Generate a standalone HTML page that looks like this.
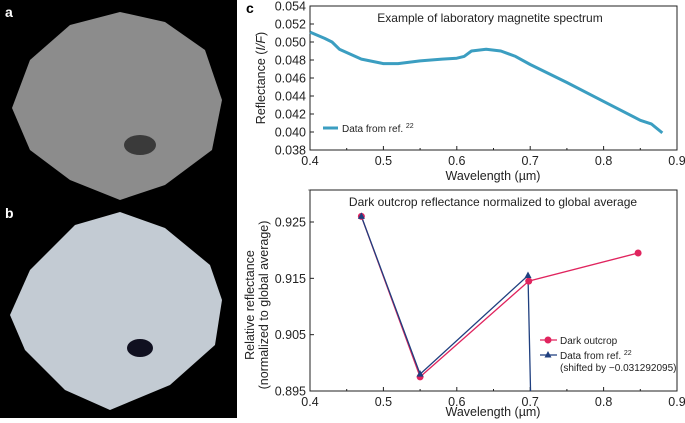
<!DOCTYPE html>
<html><head><meta charset="utf-8">
<style>
html,body{margin:0;padding:0;background:#fff;width:685px;height:423px;overflow:hidden}
svg{display:block}
svg text{font-family:"Liberation Sans",sans-serif}
</style></head>
<body>
<svg width="685" height="423" viewBox="0 0 685 423" xmlns="http://www.w3.org/2000/svg">
<defs><clipPath id="cp"><rect x="310" y="190" width="367" height="201"/></clipPath></defs>
<g>
<rect x="0" y="0" width="237" height="418" fill="#000"/>
<polygon points="120,12 165,22 205,50 222,100 212,150 165,185 120,200 70,180 30,150 12,108 30,60 70,25" fill="#8c8c8c"/>
<ellipse cx="140" cy="145" rx="16" ry="10" fill="#3a3a3a"/>
<polygon points="120,212 165,228 210,265 222,300 215,345 170,385 110,410 65,390 25,350 10,315 30,270 75,225" fill="#c3cbd3"/>
<ellipse cx="140" cy="348" rx="13" ry="9" fill="#101020"/>
<text x="5" y="17" font-size="14" font-weight="bold" fill="#fff">a</text>
<text x="5" y="218" font-size="14" font-weight="bold" fill="#fff">b</text>
</g>
<text x="246" y="13" font-size="14" font-weight="bold" fill="#000">c</text>
<line x1="308" y1="190" x2="677" y2="190" stroke="#999" stroke-width="1"/>
<g id="topChart"></g>
<g id="botChart"></g>
</svg>
<script>
const specX=[0.40,0.42,0.43,0.44,0.47,0.50,0.52,0.55,0.58,0.60,0.61,0.62,0.64,0.66,0.68,0.70,0.75,0.80,0.85,0.865,0.88];
const specY=[0.0511,0.0504,0.0500,0.0492,0.0481,0.0476,0.0476,0.0479,0.0481,0.0482,0.0484,0.0490,0.0492,0.0490,0.0484,0.0475,0.0455,0.0434,0.0413,0.0409,0.0399];
const topYTicks=["0.038","0.040","0.042","0.044","0.046","0.048","0.050","0.052","0.054"];
const xTicks=["0.4","0.5","0.6","0.7","0.8","0.9"];
const darkX=[0.47,0.55,0.698,0.847];
const darkY=[0.926,0.8975,0.9145,0.9195];
const refX=[0.47,0.55,0.697,0.703];
const refY=[0.926,0.898,0.9155,0.880];
const botYTicks=["0.895","0.905","0.915","0.925"];
const NS="http://www.w3.org/2000/svg";
function mk(p,tag,a){const e=document.createElementNS(NS,tag);for(const k in a)e.setAttribute(k,a[k]);p.appendChild(e);return e;}
const L=310,R=677;
const sx=v=>L+(v-0.4)/0.5*(R-L);
const topG=document.getElementById('topChart');
const T1=6,B1=150;
const sy1=v=>B1-(v-0.038)/0.016*(B1-T1);
let fr=mk(topG,'rect',{x:L,y:T1,width:R-L,height:B1-T1,fill:'none',stroke:'#222','stroke-width':1});


topYTicks.forEach(t=>{const y=sy1(+t);
 const tl=mk(topG,'line',{x1:L,x2:L+4,y1:y,y2:y,stroke:'#222'});
 
 
 const tx=mk(topG,'text',{x:L-4,y:y+4.5,'font-size':12.5,'text-anchor':'end',fill:'#222'});tx.textContent=t;
 
 });
xTicks.forEach((t,i)=>{const x=sx(+t);
 const tl=mk(topG,'line',{x1:x,x2:x,y1:B1,y2:B1-4,stroke:'#222'});
 
 
 if(i<5){const m=mk(topG,'line',{x1:x+36.7,x2:x+36.7,y1:B1,y2:B1-2,stroke:'#222'});
 
 }
 const tx=mk(topG,'text',{x:x,y:B1+15,'font-size':12.5,'text-anchor':'middle',fill:'#222'});tx.textContent=t;
 
 });
let t1=mk(topG,'text',{x:490,y:22,'font-size':12,'text-anchor':'middle',fill:'#222'});t1.textContent='Example of laboratory magnetite spectrum';


let xl=mk(topG,'text',{x:493,y:180,'font-size':12.5,'text-anchor':'middle',fill:'#222'});xl.textContent='Wavelength (µm)';


let yl=mk(topG,'text',{x:0,y:0,'font-size':12.5,'text-anchor':'middle',fill:'#222',transform:'translate(265,78) rotate(-90)'});yl.innerHTML='Reflectance (<tspan font-style="italic">I/F</tspan>)';


let ln=mk(topG,'polyline',{points:specX.map((x,i)=>sx(x)+','+sy1(specY[i])).join(' '),fill:'none',stroke:'#3b9ec1','stroke-width':3,'stroke-linejoin':'round'});


let lg=mk(topG,'line',{x1:323,x2:338,y1:128,y2:128,stroke:'#3b9ec1','stroke-width':3});


let lt=mk(topG,'text',{x:342,y:132,'font-size':10,fill:'#222'});lt.innerHTML='Data from ref. <tspan font-size="7" dy="-4">22</tspan>';


const botG=document.getElementById('botChart');
const T2=190,B2=391;
const sy2=v=>B2-(v-0.895)/0.03*(B2-222);
let fr2=mk(botG,'rect',{x:L,y:T2,width:R-L,height:B2-T2,fill:'none',stroke:'#222','stroke-width':1});


botYTicks.forEach(t=>{const y=sy2(+t);
 const tl=mk(botG,'line',{x1:L,x2:L+4,y1:y,y2:y,stroke:'#222'});
 
 
 const tx=mk(botG,'text',{x:L-4,y:y+4.5,'font-size':12.5,'text-anchor':'end',fill:'#222'});tx.textContent=t;
 
 });
xTicks.forEach((t,i)=>{const x=sx(+t);
 const tl=mk(botG,'line',{x1:x,x2:x,y1:B2,y2:B2-4,stroke:'#222'});
 
 
 if(i<5){const m=mk(botG,'line',{x1:x+36.7,x2:x+36.7,y1:B2,y2:B2-2,stroke:'#222'});
 
 }
 const tx=mk(botG,'text',{x:x,y:B2+15,'font-size':12.5,'text-anchor':'middle',fill:'#222'});tx.textContent=t;
 
 });
let t2=mk(botG,'text',{x:493,y:206,'font-size':12,'text-anchor':'middle',fill:'#222'});t2.textContent='Dark outcrop reflectance normalized to global average';


let xl2=mk(botG,'text',{x:493,y:416,'font-size':12.5,'text-anchor':'middle',fill:'#222'});xl2.textContent='Wavelength (µm)';


let yl2=mk(botG,'text',{x:0,y:0,'font-size':12.5,'text-anchor':'middle',fill:'#222',transform:'translate(254,305) rotate(-90)'});yl2.textContent='Relative reflectance';


let yl3=mk(botG,'text',{x:0,y:0,'font-size':12.5,'text-anchor':'middle',fill:'#222',transform:'translate(268,305) rotate(-90)'});yl3.textContent='(normalized to global average)';


let dl=mk(botG,'polyline',{points:darkX.map((x,i)=>sx(x)+','+sy2(darkY[i])).join(' '),fill:'none',stroke:'#e0245e','stroke-width':1.3,'clip-path':'url(#cp)'});


let rl=mk(botG,'polyline',{points:refX.map((x,i)=>sx(x)+','+sy2(refY[i])).join(' '),fill:'none',stroke:'#1f3f7f','stroke-width':1.3,'clip-path':'url(#cp)'});


darkX.forEach((x,i)=>{const c=mk(botG,'circle',{cx:sx(x),cy:sy2(darkY[i]),r:3.5,fill:'#e0245e'});
 
 });
refX.slice(0,3).forEach((x,i)=>{const px=sx(x),py=sy2(refY[i]);const p=mk(botG,'polygon',{points:`${px},${py-4} ${px-3.5},${py+2.5} ${px+3.5},${py+2.5}`,fill:'#1f3f7f'});
 
 });
let g1=mk(botG,'line',{x1:540,x2:557,y1:340,y2:340,stroke:'#e0245e','stroke-width':1.3});


let g1c=mk(botG,'circle',{cx:548,cy:340,r:3.5,fill:'#e0245e'});


let g1t=mk(botG,'text',{x:560,y:344,'font-size':10,fill:'#222'});g1t.textContent='Dark outcrop';


let g2=mk(botG,'line',{x1:540,x2:557,y1:355,y2:355,stroke:'#1f3f7f','stroke-width':1.3});


let g2m=mk(botG,'polygon',{points:'548,351 544.5,357.5 551.5,357.5',fill:'#1f3f7f'});


let g2t=mk(botG,'text',{x:560,y:359,'font-size':10,fill:'#222'});g2t.innerHTML='Data from ref. <tspan font-size="7" dy="-4">22</tspan>';


let g3t=mk(botG,'text',{x:560,y:371,'font-size':10,fill:'#222'});g3t.textContent='(shifted by −0.031292095)';


</script>
</body></html>
